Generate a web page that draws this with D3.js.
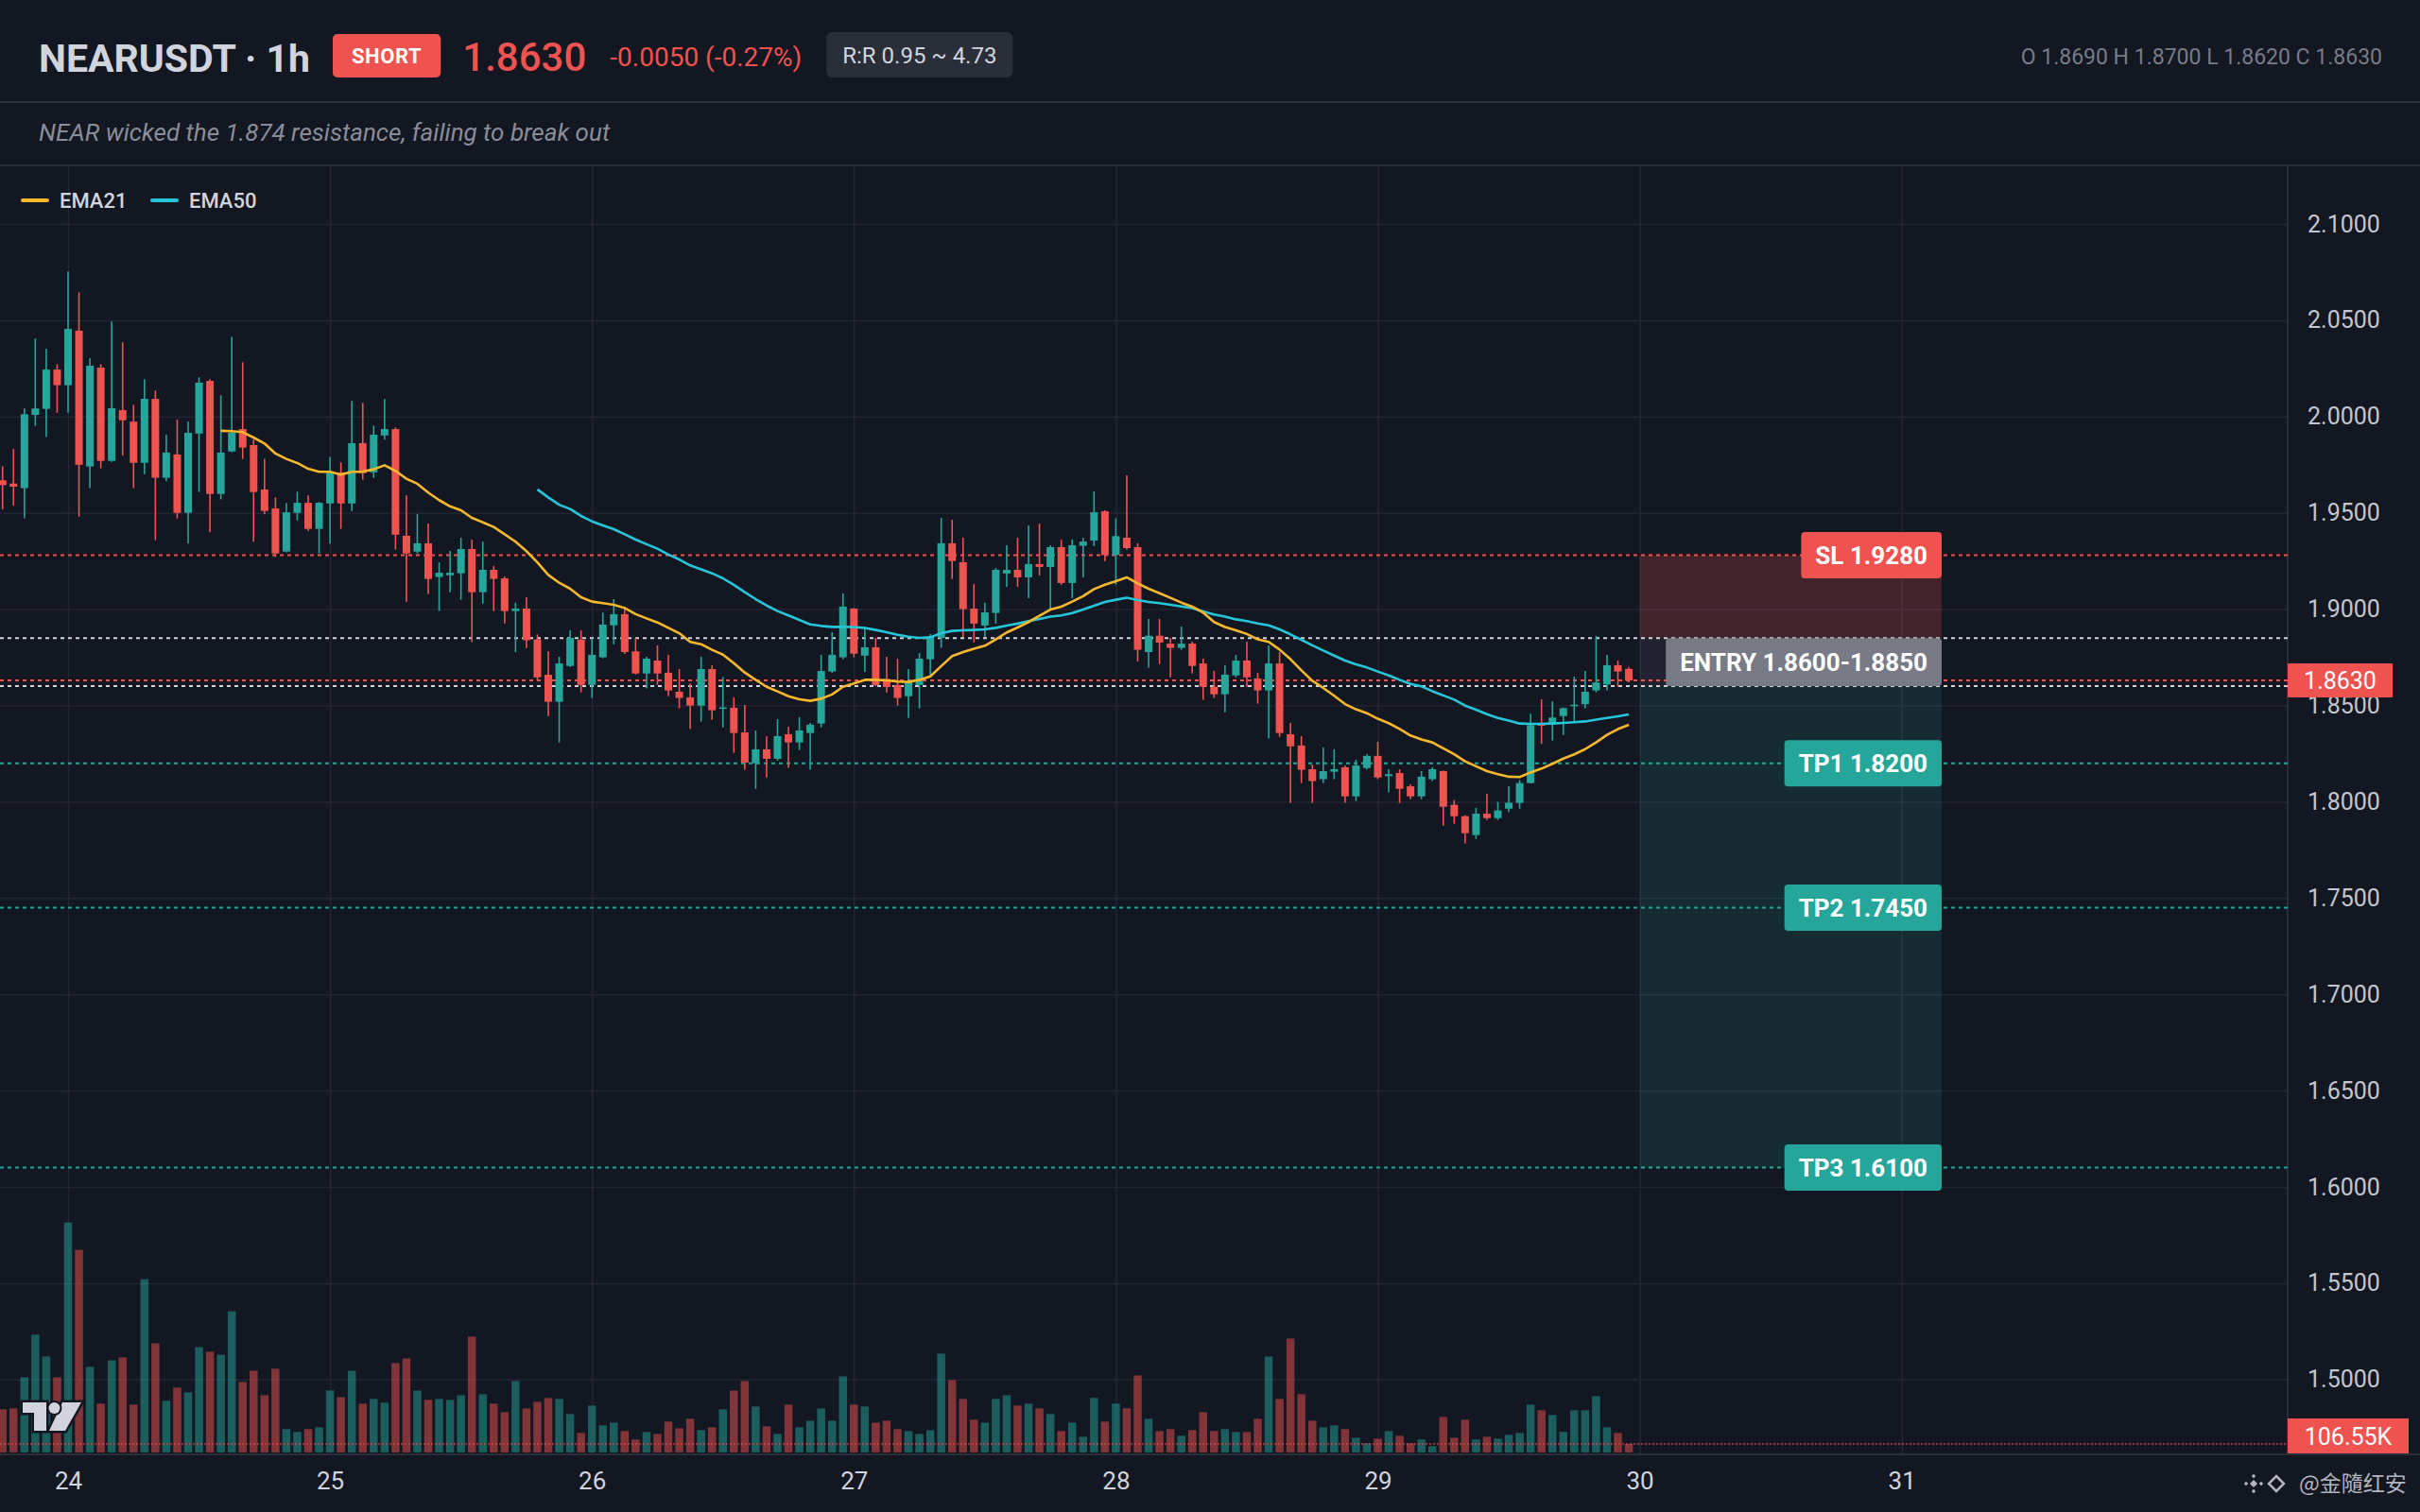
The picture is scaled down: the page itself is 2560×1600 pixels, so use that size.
<!DOCTYPE html>
<html>
<head>
<meta charset="utf-8">
<title>NEARUSDT 1h</title>
<script src="https://cdn.jsdelivr.net/npm/d3@7"></script>
<style>
    html, body { margin: 0; padding: 0; background: #131722; }
    #chart { width: 2560px; height: 1600px; }
</style>
</head>
<body>
<div id="chart"></div>
<script>
// one candle per hour, first one at 23 Oct 18:00
const firstCandle = "2025-10-23T18:00:00Z";

const opens = [
    1.9669, 1.9652, 1.9628, 2.0009, 2.0040, 2.0244, 2.0163, 2.0446, 1.9741, 2.0254,
    1.9770, 2.0033, 1.9974, 1.9760, 2.0092, 1.9682, 1.9803, 1.9500, 1.9912, 2.0185,
    1.9598, 1.9819, 1.9935, 1.9852, 1.9621, 1.9523, 1.9299, 1.9500, 1.9552, 1.9417,
    1.9549, 1.9710, 1.9549, 1.9862, 1.9710, 1.9902, 1.9935, 1.9381, 1.9299, 1.9342,
    1.9167, 1.9176, 1.9186, 1.9312, 1.9088, 1.9204, 1.9160, 1.8990, 1.9003, 1.8843,
    1.8659, 1.8519, 1.8705, 1.8841, 1.8607, 1.8750, 1.8916, 1.8974, 1.8781, 1.8666,
    1.8733, 1.8670, 1.8571, 1.8542, 1.8499, 1.8689, 1.8485, 1.8488, 1.8360, 1.8200,
    1.8272, 1.8223, 1.8350, 1.8308, 1.8357, 1.8406, 1.8676, 1.8750, 1.9003, 1.8759,
    1.8802, 1.8638, 1.8606, 1.8548, 1.8606, 1.8740, 1.8851, 1.9342, 1.9244, 1.9003,
    1.8915, 1.8980, 1.9185, 1.9204, 1.9165, 1.9234, 1.9219, 1.9322, 1.9136, 1.9329,
    1.9356, 1.9508, 1.9281, 1.9371, 1.9322, 1.8777, 1.8862, 1.8821, 1.8799, 1.8821,
    1.8718, 1.8597, 1.8558, 1.8656, 1.8733, 1.8640, 1.8578, 1.8718, 1.8350, 1.8292,
    1.8169, 1.8117, 1.8156, 1.8179, 1.8028, 1.8175, 1.8238, 1.8133, 1.8149, 1.8080,
    1.8028, 1.8117, 1.8159, 1.7984, 1.7925, 1.7827, 1.7938, 1.7915, 1.7964, 1.7994,
    1.8097, 1.8408, 1.8401, 1.8445, 1.8498, 1.8507, 1.8578, 1.8609, 1.8709, 1.8690
];
const highs = [
    1.9742, 1.9832, 2.0042, 2.0405, 2.0352, 2.0272, 2.0753, 2.0645, 2.0303, 2.0272,
    2.0493, 2.0385, 2.0061, 2.0194, 2.0135, 1.9904, 1.9984, 1.9974, 2.0204, 2.0194,
    2.0110, 2.0414, 2.0282, 1.9881, 1.9781, 1.9580, 1.9551, 1.9610, 1.9590, 1.9556,
    1.9791, 1.9762, 2.0081, 2.0071, 1.9953, 2.0091, 1.9943, 1.9590, 1.9494, 1.9444,
    1.9243, 1.9302, 1.9371, 1.9361, 1.9351, 1.9224, 1.9170, 1.9034, 1.9062, 1.8869,
    1.8782, 1.8753, 1.8890, 1.8890, 1.8848, 1.8982, 1.9052, 1.9011, 1.8851, 1.8753,
    1.8812, 1.8763, 1.8689, 1.8614, 1.8753, 1.8709, 1.8648, 1.8542, 1.8502, 1.8370,
    1.8341, 1.8429, 1.8390, 1.8439, 1.8409, 1.8763, 1.8880, 1.9082, 1.9006, 1.8910,
    1.8851, 1.8753, 1.8743, 1.8689, 1.8772, 1.8871, 1.9474, 1.9464, 1.9371, 1.9131,
    1.9033, 1.9214, 1.9332, 1.9371, 1.9435, 1.9445, 1.9332, 1.9361, 1.9361, 1.9371,
    1.9611, 1.9513, 1.9472, 1.9695, 1.9342, 1.8949, 1.8949, 1.8851, 1.8910, 1.8831,
    1.8743, 1.8679, 1.8709, 1.8763, 1.8831, 1.8669, 1.8812, 1.8777, 1.8409, 1.8341,
    1.8193, 1.8282, 1.8272, 1.8188, 1.8218, 1.8247, 1.8311, 1.8169, 1.8169, 1.8090,
    1.8159, 1.8179, 1.8162, 1.8009, 1.7930, 1.7968, 1.8041, 1.7999, 1.8080, 1.8113,
    1.8457, 1.8532, 1.8521, 1.8489, 1.8650, 1.8679, 1.8861, 1.8763, 1.8733, 1.8700
];
const lows = [
    1.9518, 1.9538, 1.9471, 1.9952, 1.9893, 2.0020, 2.0020, 1.9480, 1.9628, 1.9731,
    1.9765, 1.9799, 1.9628, 1.9701, 1.9358, 1.9664, 1.9471, 1.9340, 1.9608, 1.9399,
    1.9570, 1.9815, 1.9780, 1.9350, 1.9492, 1.9271, 1.9295, 1.9461, 1.9407, 1.9289,
    1.9340, 1.9417, 1.9510, 1.9672, 1.9682, 1.9880, 1.9309, 1.9039, 1.9289, 1.9078,
    1.8990, 1.9088, 1.9049, 1.8829, 1.9029, 1.8990, 1.8926, 1.8777, 1.8798, 1.8630,
    1.8445, 1.8308, 1.8700, 1.8568, 1.8539, 1.8745, 1.8818, 1.8768, 1.8660, 1.8588,
    1.8607, 1.8548, 1.8485, 1.8377, 1.8416, 1.8426, 1.8386, 1.8254, 1.8166, 1.8067,
    1.8126, 1.8213, 1.8176, 1.8269, 1.8166, 1.8386, 1.8670, 1.8740, 1.8750, 1.8674,
    1.8600, 1.8568, 1.8499, 1.8435, 1.8485, 1.8660, 1.8799, 1.9157, 1.8856, 1.8828,
    1.8856, 1.8925, 1.9116, 1.9116, 1.9057, 1.9175, 1.8998, 1.9126, 1.9057, 1.9165,
    1.9328, 1.9250, 1.9127, 1.9309, 1.8728, 1.8696, 1.8715, 1.8646, 1.8789, 1.8666,
    1.8529, 1.8539, 1.8465, 1.8646, 1.8597, 1.8509, 1.8328, 1.8337, 1.7994, 1.8097,
    1.7994, 1.8097, 1.8117, 1.7994, 1.8004, 1.8166, 1.8117, 1.8048, 1.7994, 1.8013,
    1.8013, 1.8107, 1.7876, 1.7886, 1.7783, 1.7807, 1.7905, 1.7905, 1.7945, 1.7964,
    1.8095, 1.8300, 1.8318, 1.8347, 1.8414, 1.8485, 1.8568, 1.8578, 1.8597, 1.8620
];
const closes = [
    1.9644, 1.9636, 2.0012, 2.0042, 2.0244, 2.0163, 2.0455, 1.9750, 2.0264, 1.9770,
    2.0043, 1.9981, 1.9760, 2.0092, 1.9682, 1.9813, 1.9500, 1.9916, 2.0176, 1.9598,
    1.9813, 1.9916, 1.9839, 1.9608, 1.9510, 1.9289, 1.9503, 1.9552, 1.9417, 1.9552,
    1.9710, 1.9549, 1.9862, 1.9706, 1.9906, 1.9935, 1.9387, 1.9289, 1.9342, 1.9157,
    1.9189, 1.9189, 1.9312, 1.9088, 1.9204, 1.9157, 1.8990, 1.9003, 1.8839, 1.8646,
    1.8519, 1.8718, 1.8851, 1.8607, 1.8763, 1.8920, 1.8974, 1.8777, 1.8666, 1.8743,
    1.8666, 1.8578, 1.8539, 1.8499, 1.8689, 1.8475, 1.8490, 1.8357, 1.8203, 1.8272,
    1.8223, 1.8341, 1.8308, 1.8370, 1.8400, 1.8679, 1.8763, 1.9013, 1.8769, 1.8802,
    1.8606, 1.8596, 1.8539, 1.8622, 1.8743, 1.8851, 1.9342, 1.9250, 1.9000, 1.8925,
    1.8983, 1.9204, 1.9204, 1.9165, 1.9234, 1.9219, 1.9322, 1.9136, 1.9332, 1.9351,
    1.9503, 1.9281, 1.9379, 1.9317, 1.8789, 1.8862, 1.8826, 1.8799, 1.8821, 1.8705,
    1.8597, 1.8558, 1.8660, 1.8733, 1.8646, 1.8578, 1.8718, 1.8357, 1.8288, 1.8166,
    1.8107, 1.8159, 1.8169, 1.8028, 1.8188, 1.8238, 1.8126, 1.8143, 1.8067, 1.8028,
    1.8130, 1.8169, 1.7974, 1.7925, 1.7837, 1.7938, 1.7915, 1.7955, 1.7995, 1.8097,
    1.8398, 1.8395, 1.8437, 1.8486, 1.8504, 1.8571, 1.8619, 1.8709, 1.8676, 1.8630
];
// volume, thousands
const volumes = [
    540, 552, 942, 1474, 1202, 942, 2880, 2537, 1072, 611,
    1154, 1190, 599, 2171, 1367, 646, 812, 753, 1320, 1261,
    1225, 1769, 883, 1024, 717, 1048, 292, 256, 292, 315,
    776, 693, 1024, 611, 670, 623, 1119, 1178, 776, 658,
    670, 658, 717, 1450, 729, 611, 504, 894, 552, 634,
    682, 670, 481, 244, 587, 339, 374, 268, 162, 256,
    232, 386, 303, 422, 280, 315, 540, 776, 894, 575,
    327, 232, 599, 315, 398, 552, 398, 953, 599, 575,
    374, 398, 292, 268, 232, 280, 1237, 906, 670, 410,
    374, 670, 717, 587, 611, 552, 481, 268, 374, 197,
    682, 386, 611, 552, 965, 422, 268, 292, 209, 280,
    504, 268, 292, 256, 256, 422, 1202, 670, 1426, 729,
    398, 315, 339, 292, 185, 114, 173, 268, 209, 114,
    162, 79, 445, 185, 410, 162, 197, 173, 221, 244,
    599, 528, 469, 256, 528, 528, 705, 315, 244, 106.55
];

// EMA values, first value sits on candle index ema21Start / ema50Start
const ema21Start = 20;
const ema21 = [
    1.9926, 1.9924, 1.9919, 1.9891, 1.9860, 1.9808, 1.9780, 1.9759, 1.9729, 1.9713,
    1.9713, 1.9698, 1.9713, 1.9714, 1.9726, 1.9747, 1.9718, 1.9677, 1.9651, 1.9605,
    1.9566, 1.9534, 1.9513, 1.9474, 1.9451, 1.9427, 1.9389, 1.9350, 1.9301, 1.9243,
    1.9178, 1.9137, 1.9106, 1.9062, 1.9039, 1.9031, 1.9023, 1.9006, 1.8974, 1.8952,
    1.8931, 1.8903, 1.8875, 1.8830, 1.8818, 1.8789, 1.8764, 1.8720, 1.8671, 1.8633,
    1.8597, 1.8573, 1.8548, 1.8532, 1.8524, 1.8535, 1.8557, 1.8597, 1.8614, 1.8633,
    1.8633, 1.8630, 1.8624, 1.8622, 1.8633, 1.8651, 1.8704, 1.8756, 1.8777, 1.8794,
    1.8810, 1.8843, 1.8879, 1.8905, 1.8933, 1.8965, 1.8998, 1.9013, 1.9039, 1.9067,
    1.9104, 1.9127, 1.9145, 1.9165, 1.9134, 1.9106, 1.9083, 1.9059, 1.9034, 1.9013,
    1.8982, 1.8933, 1.8907, 1.8890, 1.8871, 1.8843, 1.8830, 1.8790, 1.8740, 1.8682,
    1.8628, 1.8591, 1.8550, 1.8507, 1.8480, 1.8460, 1.8431, 1.8408, 1.8378, 1.8344,
    1.8323, 1.8308, 1.8277, 1.8247, 1.8210, 1.8184, 1.8159, 1.8143, 1.8130, 1.8128,
    1.8152, 1.8172, 1.8197, 1.8224, 1.8246, 1.8273, 1.8308, 1.8347, 1.8377, 1.8399
];
const ema50Start = 49;
const ema50 = [
    1.9622, 1.9580, 1.9542, 1.9520, 1.9484, 1.9456, 1.9435, 1.9415, 1.9389, 1.9361,
    1.9337, 1.9314, 1.9283, 1.9258, 1.9227, 1.9207, 1.9186, 1.9160, 1.9126, 1.9088,
    1.9052, 1.9019, 1.8990, 1.8967, 1.8944, 1.8921, 1.8913, 1.8908, 1.8908, 1.8907,
    1.8902, 1.8892, 1.8880, 1.8867, 1.8857, 1.8851, 1.8854, 1.8875, 1.8887, 1.8890,
    1.8892, 1.8895, 1.8903, 1.8915, 1.8925, 1.8938, 1.8949, 1.8961, 1.8967, 1.8980,
    1.8998, 1.9018, 1.9037, 1.9049, 1.9059, 1.9047, 1.9037, 1.9031, 1.9023, 1.9014,
    1.9005, 1.8988, 1.8972, 1.8961, 1.8947, 1.8938, 1.8926, 1.8916, 1.8895, 1.8869,
    1.8841, 1.8812, 1.8785, 1.8759, 1.8733, 1.8713, 1.8697, 1.8676, 1.8656, 1.8633,
    1.8612, 1.8599, 1.8574, 1.8552, 1.8530, 1.8499, 1.8478, 1.8455, 1.8435, 1.8421,
    1.8406, 1.8404, 1.8404, 1.8406, 1.8409, 1.8413, 1.8417, 1.8426, 1.8435, 1.8444,
    1.8453
];

const priceTicks = [1.50, 1.55, 1.60, 1.65, 1.70, 1.75, 1.80, 1.85, 1.90, 1.95, 2.00, 2.05, 2.10];
const dayTicks = ["2025-10-24", "2025-10-25", "2025-10-26", "2025-10-27",
    "2025-10-28", "2025-10-29", "2025-10-30", "2025-10-31"];

// trade plan
const planFrom = "2025-10-30T00:00:00Z";
const planTo = "2025-10-31T03:40:00Z";
const stopLoss = 1.928;
const entryRange = [1.86, 1.885];
const targetNames = ["TP1", "TP2", "TP3"];
const targetPrices = [1.82, 1.745, 1.61];

const symbol = "NEARUSDT";
const interval = "1h";
const side = "SHORT";
const lastChange = -0.0050;
const lastChangePct = -0.27;
const riskReward = [0.95, 4.73];
const note = "NEAR wicked the 1.874 resistance, failing to break out";
const watermark = "@金隨红安";

const FONT = "Roboto, 'Noto Sans', sans-serif";
const UP = "#26a69a";
const DOWN = "#ef5350";

// plain hyphen for negatives, like the source chart
const locale = d3.formatLocale({decimal: ".", thousands: ",", grouping: [3], currency: ["", ""], minus: "-"});
const f4 = locale.format(".4f");
const f2 = locale.format(".2f");

class TradeChart {

    constructor(parentElement) {
        this.parentElement = parentElement;
        this.initVis();
    }

    initVis() {
        let vis = this;

        vis.width = 2560;
        vis.height = 1600;
        vis.plot = {left: 0, right: 2420, top: 175, bottom: 1539};

        vis.svg = d3.select("#" + vis.parentElement)
            .append("svg")
            .attr("width", vis.width)
            .attr("height", vis.height)
            .style("font-family", FONT);

        vis.svg.append("rect")
            .attr("width", vis.width)
            .attr("height", vis.height)
            .attr("fill", "#131722");

        vis.svg.append("clipPath")
            .attr("id", "plot-clip")
            .append("rect")
            .attr("x", vis.plot.left)
            .attr("y", vis.plot.top)
            .attr("width", vis.plot.right - vis.plot.left)
            .attr("height", vis.plot.bottom - vis.plot.top);

        vis.days = dayTicks.map(d => new Date(d + "T00:00:00Z"));

        vis.x = d3.scaleUtc()
            .domain([vis.days[0], vis.days[vis.days.length - 1]])
            .range([72, 2011.7]);
        vis.y = d3.scaleLinear()
            .domain([1.5, 2.1])
            .range([1459.8, 237]);
        vis.yVol = d3.scaleLinear()
            .domain([0, 3000])
            .range([1537, 1283.5]);

        vis.wrangleData();
    }

    wrangleData() {
        let vis = this;
        let t0 = new Date(firstCandle);

        vis.candles = opens.map((o, i) => ({
            time: d3.utcHour.offset(t0, i),
            open: o,
            high: highs[i],
            low: lows[i],
            close: closes[i],
            volume: volumes[i]
        }));
        vis.ema21 = ema21.map((v, i) => ({time: d3.utcHour.offset(t0, ema21Start + i), value: v}));
        vis.ema50 = ema50.map((v, i) => ({time: d3.utcHour.offset(t0, ema50Start + i), value: v}));

        vis.updateVis();
    }

    updateVis() {
        let vis = this;
        vis.drawGrid();
        vis.drawPlan();
        vis.drawVolume();
        vis.drawCandles();
        vis.drawAxes();
        vis.drawHeader();
        vis.drawLogos();
    }

    drawGrid() {
        let vis = this;

        let gy = vis.svg.append("g")
            .call(d3.axisRight(vis.y).tickValues(priceTicks).tickSize(vis.plot.right).tickFormat(""));
        gy.select(".domain").remove();
        gy.selectAll("line").attr("stroke", "#232632").attr("stroke-width", 1.5);

        let gx = vis.svg.append("g")
            .attr("transform", "translate(0," + vis.plot.bottom + ")")
            .call(d3.axisBottom(vis.x).tickValues(vis.days).tickSize(-(vis.plot.bottom - vis.plot.top)).tickFormat(""));
        gx.select(".domain").remove();
        gx.selectAll("line").attr("stroke", "#232632").attr("stroke-width", 1.5);

        // frame lines
        vis.svg.append("line")
            .attr("x1", 0).attr("x2", vis.width)
            .attr("y1", 108).attr("y2", 108)
            .attr("stroke", "#2a2e39").attr("stroke-width", 2);
        vis.svg.append("line")
            .attr("x1", 0).attr("x2", vis.width)
            .attr("y1", vis.plot.top).attr("y2", vis.plot.top)
            .attr("stroke", "#2a2e39").attr("stroke-width", 2);
        vis.svg.append("line")
            .attr("x1", vis.plot.right).attr("x2", vis.plot.right)
            .attr("y1", vis.plot.top).attr("y2", vis.plot.bottom)
            .attr("stroke", "#2a2e39").attr("stroke-width", 2);
        vis.svg.append("line")
            .attr("x1", 0).attr("x2", vis.width)
            .attr("y1", vis.plot.bottom).attr("y2", vis.plot.bottom)
            .attr("stroke", "#2a2e39").attr("stroke-width", 2);
    }

    drawPlan() {
        let vis = this;
        let x0 = vis.x(new Date(planFrom));
        let x1 = vis.x(new Date(planTo));

        let zones = [
            {top: stopLoss, bottom: entryRange[1], color: DOWN, alpha: 0.22},
            {top: entryRange[1], bottom: entryRange[0], color: "#787b86", alpha: 0.14},
            {top: entryRange[0], bottom: targetPrices[targetPrices.length - 1], color: UP, alpha: 0.15}
        ];
        vis.svg.append("g").selectAll("rect")
            .data(zones)
            .enter().append("rect")
            .attr("x", x0)
            .attr("width", x1 - x0)
            .attr("y", d => vis.y(d.top))
            .attr("height", d => vis.y(d.bottom) - vis.y(d.top))
            .attr("fill", d => d.color)
            .attr("fill-opacity", d => d.alpha);

        let levels = [
            {price: stopLoss, color: DOWN},
            {price: entryRange[1], color: "#d1d4dc"},
            {price: entryRange[0], color: "#d1d4dc"},
            {price: closes[closes.length - 1], color: DOWN}
        ].concat(targetPrices.map(p => ({price: p, color: UP})));

        vis.svg.append("g").selectAll("line")
            .data(levels)
            .enter().append("line")
            .attr("x1", vis.plot.left)
            .attr("x2", vis.plot.right)
            .attr("y1", d => vis.y(d.price))
            .attr("y2", d => vis.y(d.price))
            .attr("stroke", d => d.color)
            .attr("stroke-width", 2)
            .attr("stroke-dasharray", "4 4");

        // labels, right aligned on the plan box
        vis.planLabels = [
            {text: "SL " + f4(stopLoss), yc: vis.y(stopLoss), h: 49, fill: DOWN},
            {text: "ENTRY " + entryRange.map(f4).join("-"),
                yc: (vis.y(entryRange[0]) + vis.y(entryRange[1])) / 2,
                h: vis.y(entryRange[0]) - vis.y(entryRange[1]), fill: "#787b86"}
        ].concat(targetNames.map((n, i) => ({
            text: n + " " + f4(targetPrices[i]),
            yc: vis.y(targetPrices[i]), h: 49, fill: UP
        })));
        vis.planX1 = x1;
    }

    drawVolume() {
        let vis = this;
        let g = vis.svg.append("g").attr("clip-path", "url(#plot-clip)");

        g.selectAll(".vol")
            .data(vis.candles)
            .enter().append("rect")
            .attr("class", "vol")
            .attr("x", d => vis.x(d.time) - 4.25)
            .attr("width", 8.5)
            .attr("y", d => vis.yVol(d.volume))
            .attr("height", d => vis.yVol(0) - vis.yVol(d.volume))
            .attr("fill", d => d.close >= d.open ? UP : DOWN)
            .attr("fill-opacity", 0.5);

        let last = vis.candles[vis.candles.length - 1];
        g.append("line")
            .attr("x1", vis.plot.left)
            .attr("x2", vis.plot.right)
            .attr("y1", vis.yVol(last.volume))
            .attr("y2", vis.yVol(last.volume))
            .attr("stroke", DOWN)
            .attr("stroke-opacity", 0.8)
            .attr("stroke-width", 1.5)
            .attr("stroke-dasharray", "2 2");
    }

    drawCandles() {
        let vis = this;
        let g = vis.svg.append("g").attr("clip-path", "url(#plot-clip)");

        g.selectAll(".wick")
            .data(vis.candles)
            .enter().append("line")
            .attr("class", "wick")
            .attr("x1", d => vis.x(d.time))
            .attr("x2", d => vis.x(d.time))
            .attr("y1", d => vis.y(d.high))
            .attr("y2", d => vis.y(d.low))
            .attr("stroke", d => d.close >= d.open ? UP : DOWN)
            .attr("stroke-width", 1.6);

        g.selectAll(".body")
            .data(vis.candles)
            .enter().append("rect")
            .attr("class", "body")
            .attr("x", d => vis.x(d.time) - 4)
            .attr("width", 8)
            .attr("y", d => vis.y(Math.max(d.open, d.close)))
            .attr("height", d => Math.max(1.6, Math.abs(vis.y(d.open) - vis.y(d.close))))
            .attr("fill", d => d.close >= d.open ? UP : DOWN);

        let line = d3.line()
            .x(d => vis.x(d.time))
            .y(d => vis.y(d.value));

        g.append("path")
            .datum(vis.ema50)
            .attr("d", line)
            .attr("fill", "none")
            .attr("stroke", "#26c6da")
            .attr("stroke-width", 2.6)
            .attr("stroke-linejoin", "round");
        g.append("path")
            .datum(vis.ema21)
            .attr("d", line)
            .attr("fill", "none")
            .attr("stroke", "#f7b82c")
            .attr("stroke-width", 2.6)
            .attr("stroke-linejoin", "round");

        // plan labels sit above the series
        let lg = vis.svg.append("g");
        vis.planLabels.forEach(d => {
            let tag = lg.append("g");
            let box = tag.append("rect")
                .attr("rx", 4)
                .attr("fill", d.fill)
                .attr("y", d.yc - d.h / 2)
                .attr("height", d.h);
            let t = tag.append("text")
                .attr("y", d.yc)
                .attr("dy", "0.36em")
                .attr("text-anchor", "end")
                .attr("x", vis.planX1 - 15)
                .attr("font-size", 26)
                .attr("font-weight", 700)
                .attr("fill", "#ffffff")
                .text(d.text);
            let w = t.node().getComputedTextLength() + 30;
            box.attr("x", vis.planX1 - w).attr("width", w);
        });

        // legend
        let legend = vis.svg.append("g").attr("transform", "translate(0,212)");
        [{name: "EMA21", color: "#f7b82c", x: 24}, {name: "EMA50", color: "#26c6da", x: 161}].forEach(d => {
            legend.append("line")
                .attr("x1", d.x).attr("x2", d.x + 26)
                .attr("stroke", d.color)
                .attr("stroke-width", 4)
                .attr("stroke-linecap", "round");
            legend.append("text")
                .attr("x", d.x + 39)
                .attr("y", 8)
                .attr("font-size", 22)
                .attr("font-weight", 500)
                .attr("fill", "#d1d4dc")
                .text(d.name);
        });
    }

    drawAxes() {
        let vis = this;

        let ay = vis.svg.append("g")
            .attr("transform", "translate(" + vis.plot.right + ",0)")
            .call(d3.axisRight(vis.y).tickValues(priceTicks).tickFormat(f4).tickSize(0).tickPadding(21));
        ay.select(".domain").remove();
        ay.attr("font-family", FONT).attr("font-size", 25);
        ay.selectAll("text").attr("fill", "#c3c6ce");

        let ax = vis.svg.append("g")
            .attr("transform", "translate(0," + vis.plot.bottom + ")")
            .call(d3.axisBottom(vis.x).tickValues(vis.days).tickFormat(d3.utcFormat("%-d")).tickSize(0).tickPadding(19));
        ax.select(".domain").remove();
        ax.attr("font-family", FONT).attr("font-size", 26);
        ax.selectAll("text").attr("fill", "#d1d4dc");

        // last price and last volume tags
        let last = vis.candles[vis.candles.length - 1];
        let yc = vis.y(last.close);
        vis.svg.append("rect")
            .attr("x", vis.plot.right)
            .attr("y", yc - 18)
            .attr("width", 111)
            .attr("height", 36)
            .attr("fill", DOWN);
        vis.svg.append("text")
            .attr("x", vis.plot.right + 55.5)
            .attr("y", yc)
            .attr("dy", "0.36em")
            .attr("text-anchor", "middle")
            .attr("font-size", 25)
            .attr("fill", "#ffffff")
            .text(f4(last.close));

        let yv = Math.min(vis.yVol(last.volume) - 18.5, vis.plot.bottom - 38);
        vis.svg.append("rect")
            .attr("x", vis.plot.right)
            .attr("y", yv)
            .attr("width", 128)
            .attr("height", 37)
            .attr("fill", DOWN);
        vis.svg.append("text")
            .attr("x", vis.plot.right + 64)
            .attr("y", yv + 18.5)
            .attr("dy", "0.36em")
            .attr("text-anchor", "middle")
            .attr("font-size", 25)
            .attr("fill", "#ffffff")
            .text(f2(last.volume) + "K");
    }

    drawHeader() {
        let vis = this;
        let last = vis.candles[vis.candles.length - 1];

        let title = vis.svg.append("text")
            .attr("x", 41).attr("y", 76)
            .attr("font-size", 41).attr("font-weight", 700)
            .attr("fill", "#d1d4dc")
            .text(symbol + " · " + interval);
        let cx = 41 + title.node().getComputedTextLength() + 24;

        let badge = vis.svg.append("rect")
            .attr("x", cx).attr("y", 36).attr("height", 46).attr("rx", 5)
            .attr("fill", DOWN);
        let badgeText = vis.svg.append("text")
            .attr("y", 67)
            .attr("font-size", 22).attr("font-weight", 700)
            .attr("letter-spacing", 0.6)
            .attr("fill", "#ffffff")
            .text(side);
        let bw = badgeText.node().getComputedTextLength() + 40;
        badge.attr("width", bw);
        badgeText.attr("x", cx + 20);
        cx += bw + 23;

        let price = vis.svg.append("text")
            .attr("x", cx).attr("y", 75)
            .attr("font-size", 42).attr("font-weight", 500)
            .attr("fill", DOWN)
            .text(f4(last.close));
        cx += price.node().getComputedTextLength() + 25;

        let change = vis.svg.append("text")
            .attr("x", cx).attr("y", 70)
            .attr("font-size", 28)
            .attr("fill", DOWN)
            .text(f4(lastChange) + " (" + f2(lastChangePct) + "%)");
        cx += change.node().getComputedTextLength() + 26;

        let rr = vis.svg.append("rect")
            .attr("x", cx).attr("y", 34).attr("height", 48).attr("rx", 6)
            .attr("fill", "#2a2e39");
        let rrText = vis.svg.append("text")
            .attr("x", cx + 17).attr("y", 67)
            .attr("font-size", 24)
            .attr("fill", "#d1d4dc")
            .text("R:R " + f2(riskReward[0]) + " ~ " + f2(riskReward[1]));
        rr.attr("width", rrText.node().getComputedTextLength() + 34);

        vis.svg.append("text")
            .attr("x", 2520).attr("y", 68)
            .attr("text-anchor", "end")
            .attr("font-size", 23)
            .attr("fill", "#787b86")
            .text("O " + f4(last.open) + " H " + f4(last.high) + " L " + f4(last.low) + " C " + f4(last.close));

        vis.svg.append("text")
            .attr("x", 41).attr("y", 149)
            .attr("font-size", 26)
            .attr("font-style", "italic")
            .attr("fill", "#8a8d97")
            .text(note);
    }

    drawLogos() {
        let vis = this;

        // chart-library mark, bottom left
        let tv = vis.svg.append("g").attr("transform", "translate(22,1480)");
        tv.append("path")
            .attr("d", "M2,4 H27 V34 H14 V15 H2 Z M44,4 H64 L47,34 H30 Z")
            .attr("fill", "#d1d4dc")
            .attr("stroke", "#131722")
            .attr("stroke-width", 5)
            .attr("paint-order", "stroke");
        tv.append("circle")
            .attr("cx", 35.5).attr("cy", 10).attr("r", 6)
            .attr("fill", "#d1d4dc")
            .attr("stroke", "#131722")
            .attr("stroke-width", 4)
            .attr("paint-order", "stroke");

        // watermark, bottom right
        let wm = vis.svg.append("g").attr("transform", "translate(2384,1570)").attr("fill", "#b2b5be");
        let diamond = s => "M0," + (-s) + " L" + s + ",0 L0," + s + " L" + (-s) + ",0 Z";
        wm.append("path").attr("d", diamond(4));
        [[-8, 0], [8, 0], [0, -8], [0, 8]].forEach(p => {
            wm.append("path").attr("d", diamond(2.2)).attr("transform", "translate(" + p[0] + "," + p[1] + ")");
        });
        wm.append("path")
            .attr("d", diamond(8))
            .attr("transform", "translate(24,0)")
            .attr("fill", "none")
            .attr("stroke", "#b2b5be")
            .attr("stroke-width", 2.5);
        vis.svg.append("text")
            .attr("x", 2432).attr("y", 1578)
            .attr("font-family", "'Noto Sans CJK SC', sans-serif")
            .attr("font-size", 23)
            .attr("fill", "#b2b5be")
            .text(watermark);
    }
}

new TradeChart("chart");
</script>
</body>
</html>
